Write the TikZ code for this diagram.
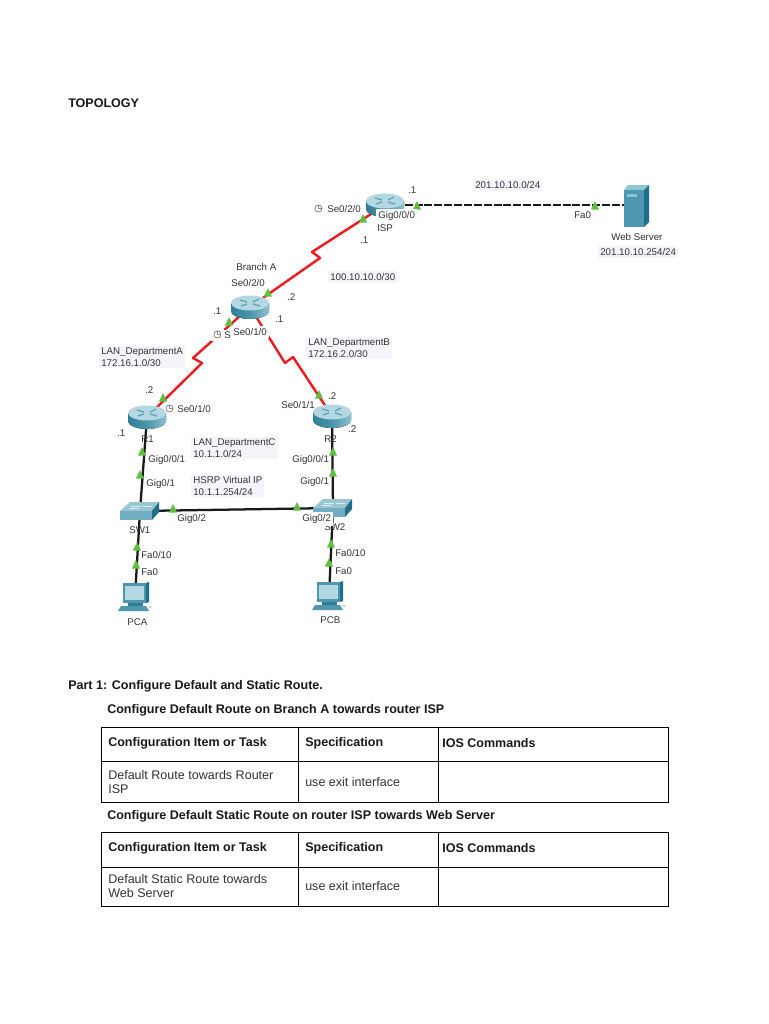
\documentclass[tikz,border=0pt]{standalone}
\usepackage{fontspec}
\setmainfont{Liberation Sans}
\newfontfamily\symf{DejaVu Sans}
\definecolor{lbg}{HTML}{F4F5FB}
\definecolor{portgreen}{HTML}{5FBF3F}
\definecolor{linkred}{HTML}{F0191E}
\definecolor{tealdark}{HTML}{2F7F98}
\definecolor{teallight}{HTML}{8CC4D2}
\definecolor{tealtop}{HTML}{B4D8E2}
\definecolor{srvfront}{HTML}{4F97B0}
\definecolor{srvside}{HTML}{1F6F8A}
\tikzset{
  x=0.75pt,y=-0.75pt,
  lbl/.style={font=\fontsize{7.3}{8.6}\selectfont,text=black!80,fill=lbg,inner sep=1.5pt,anchor=west,align=left},
  plainlbl/.style={font=\fontsize{7.3}{8.6}\selectfont,text=black!80,inner sep=0pt,anchor=west,align=left},
  whitelbl/.style={font=\fontsize{7.3}{8.6}\selectfont,text=black!80,fill=white,inner sep=1.5pt,anchor=west,align=left},
  clocklbl/.style={font=\symf\fontsize{7.3}{8.6}\selectfont,text=black!80,inner sep=0pt,anchor=west},
  serial/.style={draw=linkred,line width=1.8pt,line join=round},
  copper/.style={draw=black!90,line width=1.7pt},
  fiber/.style={draw=black!90,line width=1.8pt,dash pattern=on 6pt off 1.4pt},
  head/.style={font=\bfseries\fontsize{9.4}{11}\selectfont,text=black!90,inner sep=0pt,anchor=west},
  cell/.style={font=\fontsize{9.4}{10.4}\selectfont,text=black!80,inner sep=0pt,anchor=west,align=left},
  grid/.style={draw=black,line width=0.75pt},
  router/.pic={
    \fill[left color=tealdark,right color=teallight,middle color=tealdark!70!teallight]
      (-19,-4) -- (-19,4) arc[x radius=19,y radius=8,start angle=180,end angle=0] -- (19,-4) -- cycle;
    \fill[tealtop] (0,-4) ellipse[x radius=19,y radius=7.5];
    \draw[tealdark!60!tealtop,line width=1pt] (-10,-7) -- (-3,-5) (3,-3) -- (10,-1) (9,-8) -- (3,-5) (-3,-3) -- (-9,-1);
  },
  switchicon/.pic={
    \fill[tealtop!80!tealdark] (-20,0) -- (-10,-9) -- (19,-9) -- (12,0) -- cycle;
    \fill[teallight!70!tealdark] (-20,0) rectangle (12,9);
    \fill[srvside] (12,0) -- (19,-9) -- (19,1) -- (12,9) -- cycle;
    \draw[white,line width=0.5pt,opacity=.7] (-9,-5) -- (1,-5) (3,-5) -- (12,-5) (-11,-3) -- (-1,-3);
  },
  pcicon/.pic={
    \fill[srvfront] (-12,-14) rectangle (11,6);
    \fill[srvside] (11,-14) -- (14,-15) -- (14,5) -- (11,6) -- cycle;
    \fill[tealtop] (-10,-11) rectangle (9,3);
    \fill[tealdark] (-7,6) rectangle (8,9);
    \fill[srvfront] (-14,9) -- (11,9) -- (14,14) -- (-17,14) -- cycle;
    \fill[tealtop] (15,10) circle[radius=1.6];
  },
  servericon/.pic={
    \fill[srvfront] (-9,-32) rectangle (11,5);
    \fill[teallight] (-9,-32) -- (-5,-37) -- (16,-37) -- (11,-32) -- cycle;
    \fill[srvside] (11,-32) -- (16,-37) -- (16,0) -- (11,5) -- cycle;
    \fill[teallight] (-6,-28) rectangle (4,-25);
  },
  port/.pic={\fill[portgreen] (-4,3.5) -- (4,3.5) -- (0,-5) -- cycle;},
}
\begin{document}
\begin{tikzpicture}
\useasboundingbox[fill=white] (0,0) rectangle (768,1024);
% device positions
\coordinate (isp) at (385,205);
\coordinate (branch) at (250,307);
\coordinate (r1) at (147,417);
\coordinate (r2) at (332,416);
\coordinate (sw1) at (140,511);
\coordinate (sw2) at (333,508);
\coordinate (pca) at (135,597);
\coordinate (pcb) at (329,596);
\coordinate (srv) at (633,222);
\coordinate (z1a) at (312,252);
\coordinate (z1b) at (320,258);
\coordinate (z2a) at (193,358);
\coordinate (z2b) at (202,363);
\coordinate (z3a) at (285,363);
\coordinate (z3b) at (293,357);
% connectors
\draw[serial] (isp) -- (z1a) -- (z1b) -- (branch);
\draw[serial] (branch) -- (z2a) -- (z2b) -- (r1);
\draw[serial] (branch) -- (z3a) -- (z3b) -- (r2);
\draw[copper] (r1) -- (sw1);
\draw[copper] (r2) -- (sw2);
\draw[copper] (sw1) -- (sw2);
\draw[copper] (sw1) -- (pca);
\draw[copper] (sw2) -- (pcb);
\draw[fiber] (isp) -- (srv |- isp);
% icons
\pic at (isp) {router};
\pic at (branch) {router};
\pic at (r1) {router};
\pic at (r2) {router};
\pic at (sw1) {switchicon};
\pic at (sw2) {switchicon};
\pic at (pca) {pcicon};
\pic at (pcb) {pcicon};
\pic at (srv) {servericon};
% port triangles
\foreach \p in {(363,219),(417,206),(595,206),(268,293),(229,322),(163,398),(319,395),(142,452),(140,475),(333,452),(333,473),(173,509),(297,507),(137,547),(136,565),(331,544),(329,563)}
  \pic at \p {port};
% labels
\node[head] (ttl) at (68,103) {TOPOLOGY};
\node[lbl] (l1) at (473,185) {201.10.10.0/24};
\node[plainlbl] (l2) at (408,190) {.1};
\node[clocklbl] (l3) at (314,209) {\char"25F7};
\node[plainlbl] (l4) at (327,209) {Se0/2/0};
\node[whitelbl] (l5) at (376,216) {Gig0/0/0};
\node[plainlbl] (l6) at (377,228) {ISP};
\node[plainlbl] (l7) at (360,240) {.1};
\node[plainlbl] (l8) at (574,215) {Fa0};
\node[plainlbl] (l9) at (611,237) {Web Server};
\node[lbl] (l10) at (598,252) {201.10.10.254/24};
\node[lbl] (l11) at (328,277) {100.10.10.0/30};
\node[plainlbl] (l12) at (236,267) {Branch A};
\node[plainlbl] (l13) at (231,283) {Se0/2/0};
\node[plainlbl] (l14) at (287,297) {.2};
\node[plainlbl] (l15) at (213,311) {.1};
\node[plainlbl] (l16) at (275,319) {.1};
\node[clocklbl,fill=white,inner sep=1.5pt] (l17) at (211,335) {\char"25F7};
\node[plainlbl,fill=white,inner sep=1.5pt] (l18) at (222,335) {S};
\node[whitelbl] (l19) at (231,332) {Se0/1/0};
\node[lbl] (l20) at (99,357) {LAN\_DepartmentA\\172.16.1.0/30};
\node[lbl] (l21) at (306,348) {LAN\_DepartmentB\\172.16.2.0/30};
\node[plainlbl] (l22) at (145,390) {.2};
\node[plainlbl] (l23) at (328,396) {.2};
\node[clocklbl] (l24) at (165,409) {\char"25F7};
\node[plainlbl] (l25) at (177,409) {Se0/1/0};
\node[plainlbl] (l26) at (281,405) {Se0/1/1};
\node[plainlbl] (l27) at (117,433) {.1};
\node[plainlbl] (l28) at (348,429) {.2};
\node[plainlbl] (l29) at (141,439) {R1};
\node[plainlbl] (l30) at (324,439) {R2};
\node[lbl] (l31) at (191,448) {LAN\_DepartmentC\\10.1.1.0/24};
\node[lbl] (l32) at (191,486) {HSRP Virtual IP\\10.1.1.254/24};
\node[plainlbl] (l33) at (148,460) {Gig0/0/1};
\node[plainlbl] (l34) at (292,460) {Gig0/0/1};
\node[plainlbl] (l35) at (146,484) {Gig0/1};
\node[plainlbl] (l36) at (300,482) {Gig0/1};
\node[plainlbl] (l37) at (177,519) {Gig0/2};
\node[plainlbl] (l38) at (129,530) {SW1};
\node[plainlbl] (l39) at (324,527) {SW2};
\node[whitelbl] (l40) at (300,519) {Gig0/2};
\node[plainlbl] (l41) at (141,555) {Fa0/10};
\node[plainlbl] (l42) at (335,553) {Fa0/10};
\node[plainlbl] (l43) at (141,572) {Fa0};
\node[plainlbl] (l44) at (335,571) {Fa0};
\node[plainlbl] (l45) at (127,622) {PCA};
\node[plainlbl] (l46) at (320,620) {PCB};
% text
\node[head] (p1) at (68,686) {Part 1: Configure Default and Static Route.};
\node[head] (p2) at (107,710) {Configure Default Route on Branch A towards router ISP};
\node[head] (p3) at (107,816) {Configure Default Static Route on router ISP towards Web Server};
% tables
\draw[grid] (101,727) rectangle (668,802);
\draw[grid] (101,761.5) -- (668,761.5) (298.5,727) -- (298.5,802) (438,727) -- (438,802);
\draw[grid] (101,832) rectangle (668,906.5);
\draw[grid] (101,867) -- (668,867) (298.5,832) -- (298.5,906.5) (438,832) -- (438,906.5);
\node[head] (a1) at (108,743.5) {Configuration Item or Task};
\node[head] (a2) at (305,743.5) {Specification};
\node[head] (a3) at (442,743.5) {IOS Commands};
\node[cell] (a4) at (108,782) {Default Route towards Router\\ISP};
\node[cell] (a5) at (305,782) {use exit interface};
\node[head] (b1) at (108,848) {Configuration Item or Task};
\node[head] (b2) at (305,848) {Specification};
\node[head] (b3) at (442,848) {IOS Commands};
\node[cell] (b4) at (108,886) {Default Static Route towards\\Web Server};
\node[cell] (b5) at (305,886) {use exit interface};
\end{tikzpicture}
\end{document}
